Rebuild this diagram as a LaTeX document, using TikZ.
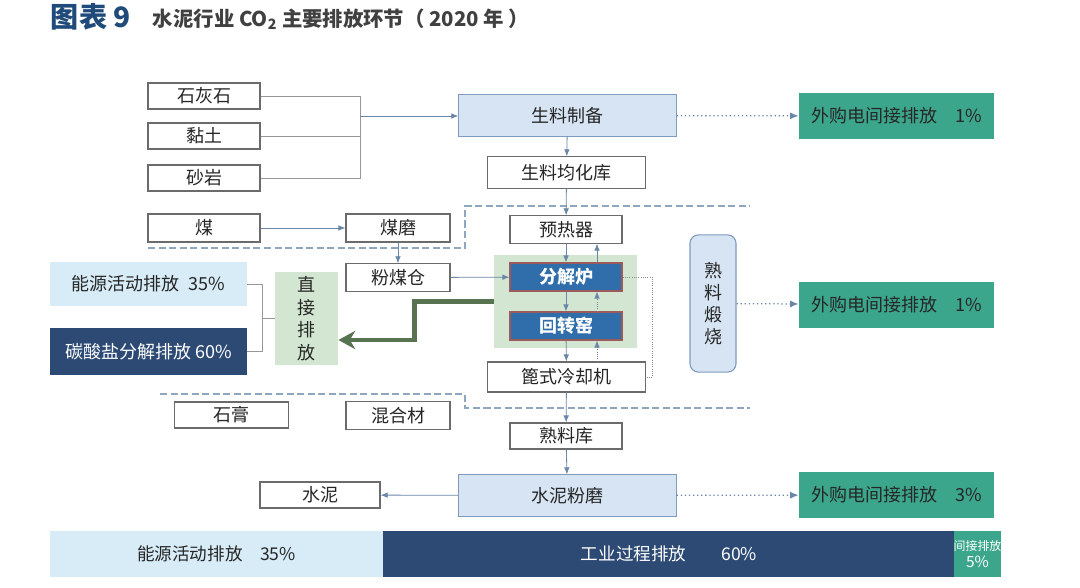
\documentclass[tikz,border=0pt]{standalone}
\usepackage{fontspec}
\setmainfont{Noto Sans CJK SC}
\usepackage{tikz}
\usetikzlibrary{calc,positioning,arrows,arrows.meta}

\definecolor{boxedge}{HTML}{6B6B6B}
\definecolor{arrowblue}{HTML}{6A86A8}
\definecolor{lightblue}{HTML}{D6E4F3}
\definecolor{lbedge}{HTML}{7F9BC0}
\definecolor{skyblue}{HTML}{D7ECF7}
\definecolor{tealbox}{HTML}{3BA68B}
\definecolor{navybar}{HTML}{2C4A74}
\definecolor{kilnblue}{HTML}{2F6EAA}
\definecolor{kilnedge}{HTML}{9C5A5A}
\definecolor{greenbg}{HTML}{D3E6D1}
\definecolor{greenarrow}{HTML}{58734F}
\definecolor{boundary}{HTML}{8FA6BF}
\definecolor{titleblue}{HTML}{1F4A7A}
\definecolor{titlegray}{HTML}{404040}
\definecolor{dotgray}{HTML}{8C8C8C}

\begin{document}
\begin{tikzpicture}[x=0.025cm,y=-0.025cm,
		box/.style={draw=boxedge, fill=white, line width=0.8pt, inner sep=0pt, text=black!85, font=\fontsize{12.8}{15}\selectfont},
		lbbox/.style={box, draw=lbedge, fill=lightblue},
		kilnbox/.style={box, draw=kilnedge, fill=kilnblue, text=white, font=\fontsize{12.8}{15}\bfseries},
		elecbox/.style={draw=none, fill=tealbox, inner sep=0pt, minimum width=4.88cm, minimum height=1.15cm, text=black!85, font=\fontsize{12.8}{15}\selectfont},
		barbox/.style={draw=none, inner sep=0pt, minimum height=1.15cm, font=\fontsize{12.5}{15}\selectfont},
		arr/.style={draw=arrowblue, line width=0.6pt, -{Latex[length=5pt,width=4pt]}},
		uparr/.style={arr, densely dotted},
		dotarr/.style={draw=arrowblue, line width=0.9pt, dotted, -{Latex[length=6pt,width=5pt]}},
		bound/.style={draw=boundary, line width=1.4pt, dash pattern=on 5pt off 2.5pt},
		conn/.style={draw=boxedge!70, line width=0.6pt}]
		\useasboundingbox (0,0) rectangle (1080,587);

		% title
		\node[anchor=west, text=titleblue, font=\fontsize{20}{24}\bfseries] (fig) at (46,17) {图表 9};
		\node[anchor=west, text=titlegray, font=\fontsize{14.5}{17}\bfseries] (title) at (148,19) {水泥行业 CO\textsubscript{2} 主要排放环节（ 2020 年 ）};

		% boundaries
		\draw[bound] (148,248) -- (465,248) -- (465,206) -- (750,206);
		\draw[bound] (160,394) -- (465,394) -- (465,408) -- (750,408);

		% raw materials
		\node[box, minimum width=2.8cm, minimum height=0.65cm] (lime) at (204,96) {石灰石};
		\node[box, minimum width=2.8cm, minimum height=0.65cm] (clay) at (204,136) {黏土};
		\node[box, minimum width=2.8cm, minimum height=0.65cm] (sand) at (204,178) {砂岩};
		\node[box, minimum width=2.8cm, minimum height=0.7cm] (coal) at (204,228) {煤};
		\node[box, minimum width=2.6cm, minimum height=0.7cm] (mill) at (398,228) {煤磨};
		\node[box, minimum width=2.6cm, minimum height=0.68cm] (bin) at (398,277.5) {粉煤仓};
		\node[box, minimum width=2.83cm, minimum height=0.65cm] (gypsum) at (231.5,415) {石膏};
		\node[box, minimum width=2.6cm, minimum height=0.68cm] (mixed) at (398,415.5) {混合材};

		% main line
		\node[lbbox, minimum width=5.43cm, minimum height=1.03cm] (prep) at (567.5,115.5) {生料制备};
		\node[box, minimum width=3.93cm, minimum height=0.78cm] (homo) at (566.5,172.5) {生料均化库};
		\node[box, minimum width=2.8cm, minimum height=0.68cm] (preheat) at (566,229.5) {预热器};
		\node[draw=none, fill=greenbg, minimum width=3.58cm, minimum height=2.33cm] (kiln) at (565.5,301.5) {};
		\node[kilnbox, minimum width=2.8cm, minimum height=0.7cm] (calc) at (566,277) {分解炉};
		\node[kilnbox, minimum width=2.8cm, minimum height=0.7cm] (rotary) at (566,326) {回转窑};
		\node[box, minimum width=3.93cm, minimum height=0.75cm] (cooler) at (566.5,377) {篦式冷却机};
		\node[box, minimum width=2.8cm, minimum height=0.65cm] (store) at (566,436) {熟料库};
		\node[lbbox, minimum width=5.43cm, minimum height=1.03cm] (grind) at (567.5,495.5) {水泥粉磨};
		\node[box, minimum width=3.0cm, minimum height=0.65cm] (cement) at (320,495) {水泥};
		\node[lbbox, rounded corners=6pt, minimum width=1.15cm, minimum height=3.43cm, align=center, font=\fontsize{12.8}{15.5}\selectfont] (burn) at (713,303.5) {熟\\料\\煅\\烧};

		% indirect emissions
		\node[elecbox] (elec1) at (896.5,116) {外购电间接排放\quad 1\%};
		\node[elecbox] (elec2) at (896.5,304.5) {外购电间接排放\quad 1\%};
		\node[elecbox] (elec3) at (896.5,495) {外购电间接排放\quad 3\%};

		% direct emissions
		\node[draw=none, fill=greenbg, minimum width=1.58cm, minimum height=2.33cm, inner sep=0pt, align=center, text=black!85, font=\fontsize{12.8}{16}\selectfont] (direct) at (306.5,318.5) {直\\接\\排\\放};
		\node[draw=none, fill=skyblue, minimum width=4.93cm, minimum height=1.1cm, inner sep=0pt, text=black!85, font=\fontsize{12.8}{15}\selectfont] (energy) at (148.5,284) {能源活动排放\enspace 35\%};
		\node[draw=none, fill=navybar, minimum width=4.93cm, minimum height=1.18cm, inner sep=0pt, text=white, font=\fontsize{12.8}{15}\selectfont] (carb) at (148.5,351.5) {碳酸盐分解排放 60\%};

		% bottom bar
		\node[barbox, fill=skyblue, minimum width=8.33cm, text=black!85] (bar1) at (216.5,554) {能源活动排放\quad 35\%};
		\node[barbox, fill=navybar, minimum width=14.3cm, text=white] (bar2) at (669,554) {工业过程排放\qquad 60\%};
		\node[barbox, fill=tealbox, minimum width=1.13cm, text=white, align=center, font=\fontsize{8.5}{12}\selectfont] (bar3) at (977.5,554) {间接排放\\{\fontsize{11}{13}\selectfont 5\%}};

		% connectors
		\coordinate (join) at (360,116);
		\draw[conn] (lime.east) -| (join);
		\draw[conn] (clay.east) -| (join);
		\draw[conn] (sand.east) -| (join);
		\draw[arr] (join) -- (join -| prep.west);
		\draw[arr] (prep) -- (homo);
		\draw[arr] (homo) -- (preheat);
		\draw[arr] (preheat) -- (calc);
		\draw[arr] (calc) -- (rotary);
		\draw[arr] (rotary) -- (cooler);
		\draw[arr] (cooler) -- (store);
		\draw[arr] (store) -- (grind);
		\draw[arr] (grind) -- (cement);
		\draw[arr] (coal) -- (mill);
		\draw[arr] (mill) -- (bin);
		\draw[arr] (bin) -- (calc);
		\draw[arr] (calc.north -| 597,0) -- (preheat.south -| 597,0);
		\draw[uparr] (rotary.north -| 597,0) -- (calc.south -| 597,0);
		\draw[uparr] (cooler.north -| 597,0) -- (rotary.south -| 597,0);
		\draw[draw=dotgray, densely dotted, line width=0.6pt] (calc.east) -- ++(30,0) |- (cooler.east);
		\draw[dotarr] (prep) -- (elec1);
		\draw[dotarr] (burn) -- (elec2);
		\draw[dotarr] (grind) -- (elec3);
		\draw[draw=greenarrow, line width=3.5pt, -{Stealth[length=12pt,width=13pt]}] (kiln.west) -- ++(-79,0) |- (direct.east |- 0,340);
		\draw[conn] (energy.east) -- ++(15,0) |- (carb.east);
		\draw[conn] (direct.west) -- ++(-13,0);
	\end{tikzpicture}
\end{document}
